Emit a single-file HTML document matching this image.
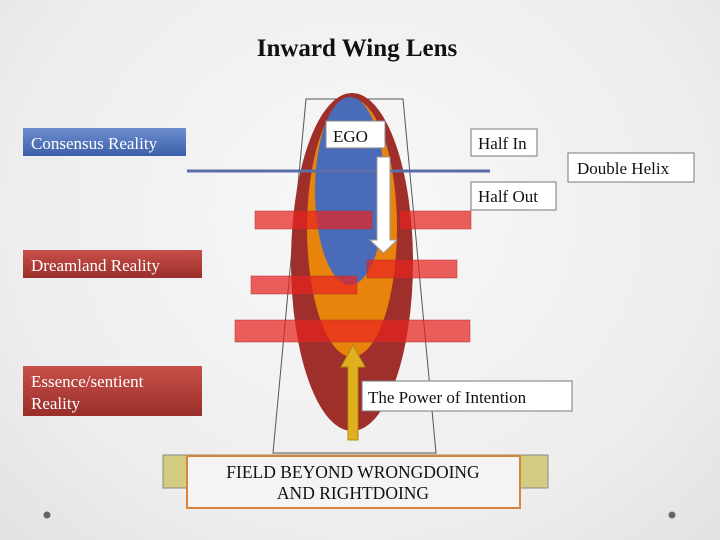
<!DOCTYPE html>
<html><head><style>
html,body{margin:0;padding:0}
body{width:720px;height:540px;overflow:hidden;background:radial-gradient(ellipse at 50% 40%,#f8f8f8 0%,#ededed 70%,#e2e2e2 100%);font-family:"Liberation Serif",serif}
</style></head><body>
<svg width="720" height="540" viewBox="0 0 720 540" xmlns="http://www.w3.org/2000/svg" style="position:absolute;left:0;top:0">
<defs>
<linearGradient id="bl" x1="0" y1="0" x2="0" y2="1"><stop offset="0" stop-color="#6d8fd0"/><stop offset="1" stop-color="#3c5fa8"/></linearGradient>
<linearGradient id="rd" x1="0" y1="0" x2="0" y2="1"><stop offset="0" stop-color="#c8504a"/><stop offset="1" stop-color="#9a2e2a"/></linearGradient>
</defs>
<text x="357" y="56" text-anchor="middle" font-size="25" font-weight="bold" fill="#111">Inward Wing Lens</text>
<rect x="23" y="128" width="163" height="28" fill="url(#bl)"/>
<text x="31" y="149" font-size="17" fill="#fff">Consensus Reality</text>
<rect x="23" y="250" width="179" height="28" fill="url(#rd)"/>
<text x="31" y="271" font-size="17" fill="#fff">Dreamland Reality</text>
<rect x="23" y="366" width="179" height="50" fill="url(#rd)"/>
<text x="31" y="387" font-size="17" fill="#fff">Essence/sentient</text>
<text x="31" y="409" font-size="17" fill="#fff">Reality</text>
<polygon points="306,99 403,99 436,453 273,453" fill="none" stroke="#555" stroke-width="1"/>
<ellipse cx="352" cy="262" rx="61" ry="169" fill="#9e2f2b"/>
<ellipse cx="352" cy="228" rx="45" ry="129" fill="#e8840c"/>
<ellipse cx="350" cy="191" rx="35" ry="94" fill="#4a6cb8"/>
<line x1="187" y1="171" x2="490" y2="171" stroke="#5a6ea8" stroke-width="3"/>
<g fill="#e8231e" fill-opacity="0.72" stroke="#a33" stroke-opacity="0.5">
<rect x="255" y="211" width="117" height="18"/>
<rect x="400" y="211" width="71" height="18"/>
<rect x="367" y="260" width="90" height="18"/>
<rect x="251" y="276" width="106" height="18"/>
<rect x="235" y="320" width="235" height="22"/>
</g>
<rect x="326" y="121" width="59" height="27" fill="#fff" stroke="#888"/>
<text x="333" y="142" font-size="17" fill="#111">EGO</text>
<polygon points="377,157 390,157 390,240 397,240 383.5,253 370,240 377,240" fill="#fff" stroke="#999"/>
<polygon points="348,440 358,440 358,367 365,367 353,345 341,367 348,367" fill="#e0b020" stroke="#b08a10"/>
<rect x="471" y="129" width="66" height="27" fill="#fff" stroke="#777"/>
<text x="478" y="149" font-size="17" fill="#111">Half In</text>
<rect x="471" y="182" width="85" height="28" fill="#fff" stroke="#777"/>
<text x="478" y="202" font-size="17" fill="#111">Half Out</text>
<rect x="568" y="153" width="126" height="29" fill="#fff" stroke="#777"/>
<text x="577" y="174" font-size="17" fill="#111">Double Helix</text>
<rect x="362" y="381" width="210" height="30" fill="#fff" stroke="#777"/>
<text x="368" y="403" font-size="17" fill="#111">The Power of Intention</text>
<rect x="163" y="455" width="385" height="33" fill="#d2cd80" stroke="#888"/>
<rect x="187" y="456" width="333" height="52" fill="#f4f4f4" stroke="#d8843a" stroke-width="2"/>
<text x="353" y="478" text-anchor="middle" font-size="17.5" fill="#111">FIELD BEYOND WRONGDOING</text>
<text x="353" y="499" text-anchor="middle" font-size="17.5" fill="#111">AND RIGHTDOING</text>
<circle cx="47" cy="515" r="3.5" fill="#666"/>
<circle cx="672" cy="515" r="3.5" fill="#666"/>
</svg>
</body></html>
